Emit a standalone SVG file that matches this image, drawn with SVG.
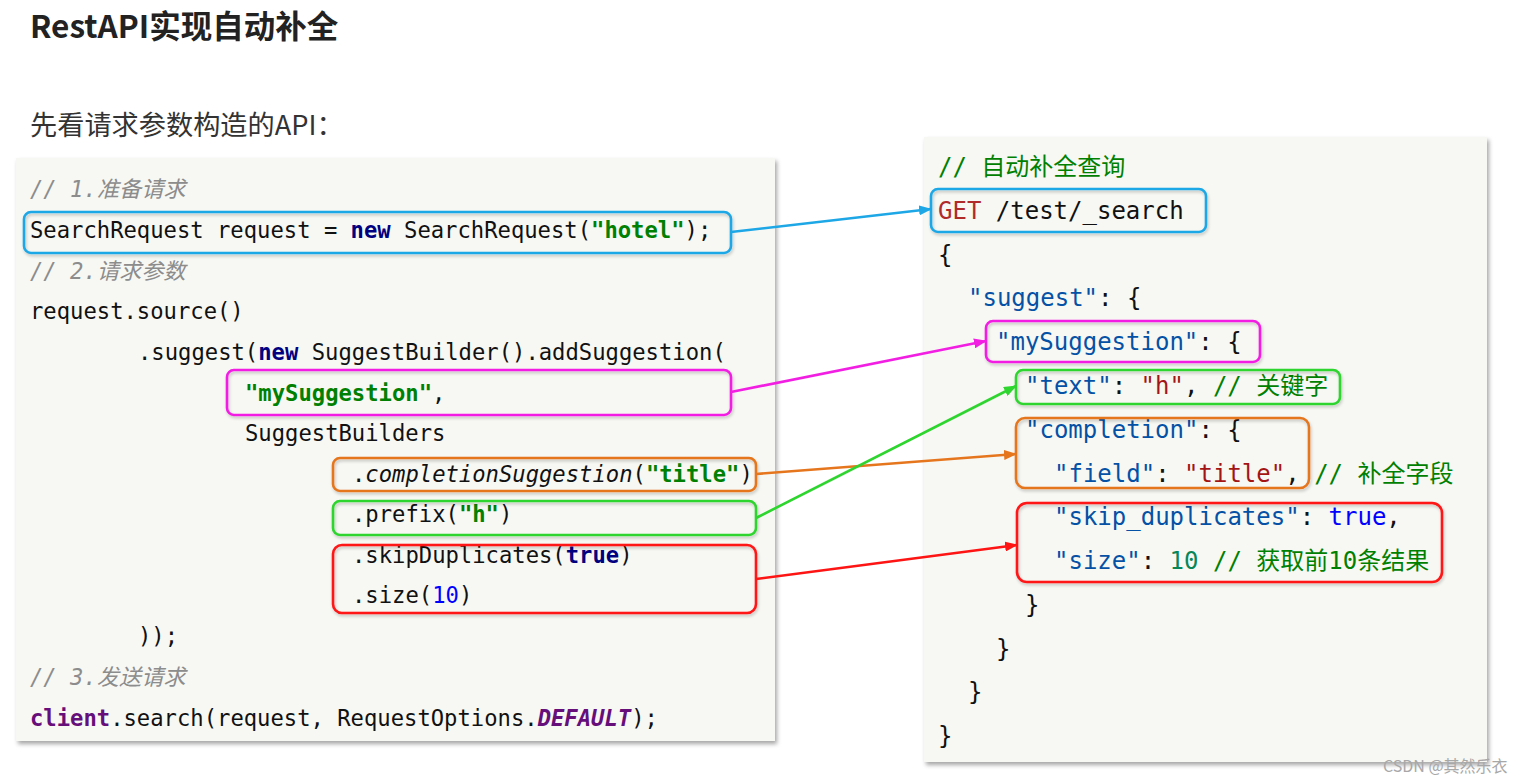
<svg xmlns="http://www.w3.org/2000/svg" width="1534" height="784" viewBox="0 0 1534 784">
<style>
.code{font-family:"DejaVu Sans Mono","Noto Sans CJK SC",monospace;font-size:22.2px;fill:#111}
.dsl{font-family:"DejaVu Sans Mono","Noto Sans CJK SC",monospace;font-size:24px;fill:#111}
.cmt{fill:#8c8c8c;font-style:italic}
.kw{fill:#000080;font-weight:bold}
.str{fill:#008000;font-weight:bold}
.num{fill:#0000ff}
.purple{fill:#660e7a;font-weight:bold}
.it{font-style:italic}
.key{fill:#0451a5}
.val{fill:#a31515}
.jcmt{fill:#008000}
.get{fill:#b02a2a}
.jtrue{fill:#0000ff}
.jnum{fill:#098658}
.panel{fill:#f7f8f4}
.box{fill:none;stroke-width:2.6}
.conn{fill:none;stroke-width:2.6}
</style>
<defs>
<filter id="pshadow" x="-5%" y="-5%" width="110%" height="110%">
<feDropShadow dx="2" dy="3" stdDeviation="2" flood-color="#000" flood-opacity="0.35"/>
</filter>
<filter id="bshadow" x="-5%" y="-20%" width="110%" height="140%">
<feDropShadow dx="1" dy="2" stdDeviation="1.5" flood-color="#000" flood-opacity="0.22"/>
</filter>
<marker id="mBlue" markerUnits="userSpaceOnUse" markerWidth="13" markerHeight="10" refX="12" refY="5" orient="auto"><path d="M0,0 L13,5 L0,10 z" fill="#1ea7e6"/></marker>
<marker id="mMag" markerUnits="userSpaceOnUse" markerWidth="13" markerHeight="10" refX="12" refY="5" orient="auto"><path d="M0,0 L13,5 L0,10 z" fill="#f21fe3"/></marker>
<marker id="mOrg" markerUnits="userSpaceOnUse" markerWidth="13" markerHeight="10" refX="12" refY="5" orient="auto"><path d="M0,0 L13,5 L0,10 z" fill="#e6761e"/></marker>
<marker id="mGrn" markerUnits="userSpaceOnUse" markerWidth="13" markerHeight="10" refX="12" refY="5" orient="auto"><path d="M0,0 L13,5 L0,10 z" fill="#2ed52e"/></marker>
<marker id="mRed" markerUnits="userSpaceOnUse" markerWidth="13" markerHeight="10" refX="12" refY="5" orient="auto"><path d="M0,0 L13,5 L0,10 z" fill="#ff1414"/></marker>
</defs>
<rect width="1534" height="784" fill="#ffffff"/>

<g id="title">
<text x="30" y="38" font-family="'Noto Sans CJK SC',sans-serif" font-size="31.5" font-weight="bold" fill="#222">RestAPI实现自动补全</text>
<text x="30" y="135" font-family="'Noto Sans CJK SC',sans-serif" font-size="27.2" fill="#333">先看请求参数构造的API：</text>
</g>

<g id="code-panel">
<rect class="panel" x="16" y="158" width="759" height="583" filter="url(#pshadow)"/>
<text class="code cmt" x="30" y="197">// 1.准备请求</text>
<text class="code" x="30" y="238">SearchRequest request = <tspan class="kw">new</tspan> SearchRequest(<tspan class="str">"hotel"</tspan>);</text>
<text class="code cmt" x="30" y="279">// 2.请求参数</text>
<text class="code" x="30" y="319">request.source()</text>
<text class="code" x="138" y="360">.suggest(<tspan class="kw">new</tspan> SuggestBuilder().addSuggestion(</text>
<text class="code" x="245" y="401"><tspan class="str">"mySuggestion"</tspan>,</text>
<text class="code" x="245" y="441">SuggestBuilders</text>
<text class="code" x="352" y="482">.<tspan class="it">completionSuggestion</tspan>(<tspan class="str">"title"</tspan>)</text>
<text class="code" x="352" y="522">.prefix(<tspan class="str">"h"</tspan>)</text>
<text class="code" x="352" y="563">.skipDuplicates(<tspan class="kw">true</tspan>)</text>
<text class="code" x="352" y="603">.size(<tspan class="num">10</tspan>)</text>
<text class="code" x="138" y="644">));</text>
<text class="code cmt" x="30" y="685">// 3.发送请求</text>
<text class="code" x="30" y="726"><tspan class="purple">client</tspan>.search(request, RequestOptions.<tspan class="purple it">DEFAULT</tspan>);</text>
</g>

<g id="dsl-panel">
<rect class="panel" x="924" y="137" width="563" height="625" filter="url(#pshadow)"/>
<text class="dsl jcmt" x="938" y="175">// 自动补全查询</text>
<text class="dsl" x="938" y="219"><tspan class="get">GET</tspan> /test/_search</text>
<text class="dsl" x="938" y="263">{</text>
<text class="dsl" x="968" y="306"><tspan class="key">"suggest"</tspan>: {</text>
<text class="dsl" x="996" y="350"><tspan class="key">"mySuggestion"</tspan>: {</text>
<text class="dsl" x="1025" y="394"><tspan class="key">"text"</tspan>: <tspan class="val">"h"</tspan>, <tspan class="jcmt">// 关键字</tspan></text>
<text class="dsl" x="1025" y="438"><tspan class="key">"completion"</tspan>: {</text>
<text class="dsl" x="1054" y="482"><tspan class="key">"field"</tspan>: <tspan class="val">"title"</tspan>, <tspan class="jcmt">// 补全字段</tspan></text>
<text class="dsl" x="1054" y="525"><tspan class="key">"skip_duplicates"</tspan>: <tspan class="jtrue">true</tspan>,</text>
<text class="dsl" x="1054" y="569"><tspan class="key">"size"</tspan>: <tspan class="jnum">10</tspan> <tspan class="jcmt">// 获取前10条结果</tspan></text>
<text class="dsl" x="1025" y="613">}</text>
<text class="dsl" x="996" y="657">}</text>
<text class="dsl" x="968" y="700">}</text>
<text class="dsl" x="938" y="744">}</text>
</g>

<g id="box-request"><rect class="box" x="24" y="212" width="707" height="41" rx="7" stroke="#1ea7e6" filter="url(#bshadow)"/></g>
<g id="box-get"><rect class="box" x="931" y="189" width="275" height="43" rx="7" stroke="#1ea7e6" filter="url(#bshadow)"/></g>
<g id="box-mysugg-java"><rect class="box" x="227" y="370" width="504" height="45" rx="7" stroke="#f21fe3" filter="url(#bshadow)"/></g>
<g id="box-mysugg-json"><rect class="box" x="986" y="321" width="274" height="41" rx="7" stroke="#f21fe3" filter="url(#bshadow)"/></g>
<g id="box-completion-java"><rect class="box" x="333" y="458" width="423" height="33" rx="7" stroke="#e6761e" filter="url(#bshadow)"/></g>
<g id="box-completion-json"><rect class="box" x="1016" y="418" width="293" height="70" rx="9" stroke="#e6761e" filter="url(#bshadow)"/></g>
<g id="box-prefix-java"><rect class="box" x="333" y="501" width="423" height="34" rx="7" stroke="#2ed52e" filter="url(#bshadow)"/></g>
<g id="box-text-json"><rect class="box" x="1016" y="370" width="324" height="34" rx="7" stroke="#2ed52e" filter="url(#bshadow)"/></g>
<g id="box-skip-java"><rect class="box" x="333" y="545" width="423" height="68" rx="9" stroke="#ff1414" filter="url(#bshadow)"/></g>
<g id="box-skip-json"><rect class="box" x="1017" y="503" width="425" height="79" rx="10" stroke="#ff1414" filter="url(#bshadow)"/></g>

<g id="connectors">
<line class="conn" x1="731" y1="232" x2="931" y2="209" stroke="#1ea7e6" marker-end="url(#mBlue)"/>
<line class="conn" x1="731" y1="392" x2="986" y2="341" stroke="#f21fe3" marker-end="url(#mMag)"/>
<line class="conn" x1="756" y1="474" x2="1016" y2="454" stroke="#e6761e" marker-end="url(#mOrg)"/>
<line class="conn" x1="756" y1="518" x2="1016" y2="386" stroke="#2ed52e" marker-end="url(#mGrn)"/>
<line class="conn" x1="756" y1="579" x2="1017" y2="545" stroke="#ff1414" marker-end="url(#mRed)"/>
</g>

<g id="watermark">
<text x="1383" y="772" font-family="'Noto Sans CJK SC',sans-serif" font-size="16" fill="#a8a8a8">CSDN @其然乐衣</text>
</g>
</svg>
